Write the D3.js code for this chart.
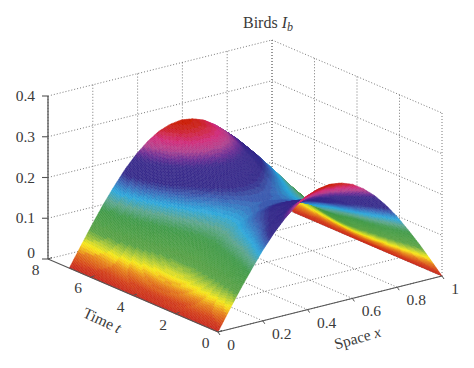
<!DOCTYPE html>
<html>
<head>
<meta charset="utf-8">
<script src="https://cdn.jsdelivr.net/npm/d3@7"></script>
<style>
    html, body { margin: 0; padding: 0; background: #fff; }
    svg { display: block; }
    text { font-family: "Liberation Serif", serif; fill: #3a3a3a; font-size: 15.5px; }
</style>
</head>
<body>
<div id="chart"></div>
<script>
const spaceValues = [0, .05, .1, .15, .2, .25, .3, .35, .4, .45, .5, .55, .6, .65, .7, .75, .8, .85, .9, .95, 1];
const timeValues = [0, .5, 1, 1.5, 2, 2.5, 3, 3.5, 4, 4.5, 5, 5.5, 6, 6.5, 7];

// Height, one row per time value
const surface = [
    [0, .046, .091, .133, .173, .208, .238, .262, .280, .290, .294, .290, .280, .262, .238, .208, .173, .133, .091, .046, 0],
    [0, .041, .081, .119, .154, .185, .212, .233, .249, .259, .262, .259, .249, .233, .212, .185, .154, .119, .081, .041, 0],
    [0, .037, .073, .107, .138, .166, .190, .209, .223, .232, .235, .232, .223, .209, .190, .166, .138, .107, .073, .037, 0],
    [0, .034, .067, .099, .128, .154, .176, .194, .207, .215, .218, .215, .207, .194, .176, .154, .128, .099, .067, .034, 0],
    [0, .032, .063, .093, .121, .145, .166, .183, .195, .203, .205, .203, .195, .183, .166, .145, .121, .093, .063, .032, 0],
    [0, .030, .059, .086, .112, .134, .154, .169, .181, .188, .190, .188, .181, .169, .154, .134, .112, .086, .059, .030, 0],
    [0, .029, .057, .084, .109, .131, .150, .165, .176, .183, .185, .183, .176, .165, .150, .131, .109, .084, .057, .029, 0],
    [0, .029, .058, .085, .111, .133, .152, .168, .179, .186, .188, .186, .179, .168, .152, .133, .111, .085, .058, .029, 0],
    [0, .031, .061, .090, .116, .140, .160, .176, .188, .196, .198, .196, .188, .176, .160, .140, .116, .090, .061, .031, 0],
    [0, .033, .066, .096, .125, .150, .172, .189, .202, .209, .212, .209, .202, .189, .172, .150, .125, .096, .066, .033, 0],
    [0, .036, .072, .105, .136, .164, .188, .207, .221, .229, .232, .229, .221, .207, .188, .164, .136, .105, .072, .036, 0],
    [0, .040, .079, .116, .150, .180, .206, .227, .243, .252, .255, .252, .243, .227, .206, .180, .150, .116, .079, .040, 0],
    [0, .043, .085, .125, .162, .194, .222, .245, .262, .272, .275, .272, .262, .245, .222, .194, .162, .125, .085, .043, 0],
    [0, .045, .089, .131, .169, .204, .233, .257, .274, .285, .288, .285, .274, .257, .233, .204, .169, .131, .089, .045, 0],
    [0, .046, .091, .134, .173, .209, .239, .263, .281, .291, .295, .291, .281, .263, .239, .209, .173, .134, .091, .046, 0]
];

const spaceTicks = [0, .2, .4, .6, .8, 1];
const timeTicks = [0, 2, 4, 6, 8];
const heightTicks = [0, .1, .2, .3, .4];

const colorStops = [0, .015, .035, .05, .062, .08, .125, .145, .165, .185, .2, .232, .245, .258, .272, .287];
const colorValues = ["#c92a1c", "#d4401a", "#e88a18", "#fbe816", "#b9cf32", "#5aa244", "#3f9a48", "#5aa58c", "#2aa6dc", "#3a62b4", "#352a8a", "#3a2a8c", "#6a2c94", "#b0408e", "#d02a78", "#cc2028"];

const width = 474, height = 368;
const originX = 218, originY = 332;

const xDx = d3.scaleLinear().domain([0, 1]).range([0, 224]);
const xDy = d3.scaleLinear().domain([0, 1]).range([0, -56]);
const tDx = d3.scaleLinear().domain([0, 8]).range([0, -170]);
const tDy = d3.scaleLinear().domain([0, 8]).range([0, -73]);
const zDy = d3.scaleLinear().domain([0, .4]).range([0, -163]);

const project = (x, t, z) => [originX + xDx(x) + tDx(t), originY + xDy(x) + tDy(t) + zDy(z)];

const ramp = d3.scaleLinear().domain(colorStops).range(colorValues);
const colorBand = d3.scaleQuantize().domain([0, .295]).range(d3.quantize(t => ramp(t * .295), 64));

const svg = d3.select("#chart").append("svg").attr("width", width).attr("height", height);

const defs = svg.append("defs");
defs.append("filter").attr("id", "soft")
    .append("feGaussianBlur").attr("stdDeviation", 0.6);

// Dotted grid on the two back walls and the floor
const grid = svg.append("g").attr("fill", "none").attr("stroke", "#6a6a6a").attr("stroke-width", 0.9).attr("stroke-dasharray", "1 2");
const gridLine = (a, b) => grid.append("line")
    .attr("x1", a[0]).attr("y1", a[1]).attr("x2", b[0]).attr("y2", b[1]);

heightTicks.forEach(z => {
    gridLine(project(0, 8, z), project(1, 8, z));
    gridLine(project(1, 8, z), project(1, 0, z));
});
spaceTicks.forEach(x => {
    gridLine(project(x, 8, 0), project(x, 8, .4));
    if (x > 0) gridLine(project(x, 0, 0), project(x, 8, 0));
});
timeTicks.forEach(t => {
    gridLine(project(1, t, 0), project(1, t, .4));
    if (t < 8) gridLine(project(0, t, 0), project(1, t, 0));
});

// Surface, painted back to front, each grid cell shaded in small steps
const steps = 8;
const bilinear = (j, i, v, u) => d3.interpolateNumber(
    d3.interpolateNumber(surface[j][i], surface[j][i + 1])(u),
    d3.interpolateNumber(surface[j + 1][i], surface[j + 1][i + 1])(u))(v);

const patches = [];
for (let j = timeValues.length - 2; j >= 0; j--) {
    for (let sj = steps - 1; sj >= 0; sj--) {
        for (let i = spaceValues.length - 2; i >= 0; i--) {
            for (let si = steps - 1; si >= 0; si--) {
                const corners = [[si, sj], [si + 1, sj], [si + 1, sj + 1], [si, sj + 1]].map(([a, b]) => {
                    const u = a / steps, v = b / steps;
                    return {
                        x: spaceValues[i] + u * (spaceValues[i + 1] - spaceValues[i]),
                        t: timeValues[j] + v * (timeValues[j + 1] - timeValues[j]),
                        z: bilinear(j, i, v, u)
                    };
                });
                patches.push(corners);
            }
        }
    }
}

svg.append("g").attr("filter", "url(#soft)").selectAll("path")
    .data(patches)
    .join("path")
    .attr("d", d => "M" + d.map(c => project(c.x, c.t, c.z).join(",")).join("L") + "Z")
    .attr("fill", d => colorBand(d3.mean(d, c => c.z)))
    .attr("stroke", d => colorBand(d3.mean(d, c => c.z)))
    .attr("stroke-width", 0.4);

// Axis lines
const axes = svg.append("g").attr("stroke", "#555").attr("fill", "none");
const axisLine = (a, b, w) => axes.append("line")
    .attr("x1", a[0]).attr("y1", a[1]).attr("x2", b[0]).attr("y2", b[1]).attr("stroke-width", w);

axisLine(project(0, 8, 0), project(0, 8, .4), 1.3);
axisLine(project(0, 8, 0), project(0, 0, 0), 1.1);
axisLine(project(0, 0, 0), project(1, 0, 0), 1.1);

heightTicks.forEach(z => {
    const p = project(0, 8, z);
    axisLine([p[0] - 6, p[1]], p, 1.1);
});
spaceTicks.forEach(x => {
    const p = project(x, 0, 0);
    axisLine(p, [p[0] + 2, p[1] + 3], 1);
});
timeTicks.forEach(t => {
    const p = project(0, t, 0);
    axisLine(p, [p[0] + 4, p[1] - 1.5], 1);
});

// Tick labels
svg.append("g").selectAll("text")
    .data(heightTicks)
    .join("text")
    .attr("x", 35)
    .attr("y", d => project(0, 8, d)[1] + (d === 0 ? -1 : 5))
    .attr("text-anchor", "end")
    .text(d => d);

svg.append("g").selectAll("text")
    .data(timeTicks)
    .join("text")
    .attr("x", d => project(0, d, 0)[0] - 12.5)
    .attr("y", d => project(0, d, 0)[1] + 16)
    .attr("text-anchor", "middle")
    .text(d => d);

svg.append("g").selectAll("text")
    .data(spaceTicks)
    .join("text")
    .attr("x", d => project(d, 0, 0)[0] + (d === 0 || d === 1 ? 13 : 19))
    .attr("y", d => project(d, 0, 0)[1] + 18)
    .attr("text-anchor", "middle")
    .text(d => d);

// Titles
const title = svg.append("text").attr("x", 243).attr("y", 28).style("font-size", "16px");
title.append("tspan").text("Birds ");
title.append("tspan").attr("font-style", "italic").text("I");
title.append("tspan").attr("font-style", "italic").style("font-size", "12px").attr("dy", 3).text("b");

const timeLabel = svg.append("text").attr("text-anchor", "middle").attr("transform", "translate(100,325) rotate(25)");
timeLabel.append("tspan").text("Time ");
timeLabel.append("tspan").attr("font-style", "italic").text("t");

const spaceLabel = svg.append("text").attr("text-anchor", "middle").attr("transform", "translate(359,343) rotate(-16)");
spaceLabel.append("tspan").text("Space ");
spaceLabel.append("tspan").attr("font-style", "italic").text("x");
</script>
</body>
</html>
